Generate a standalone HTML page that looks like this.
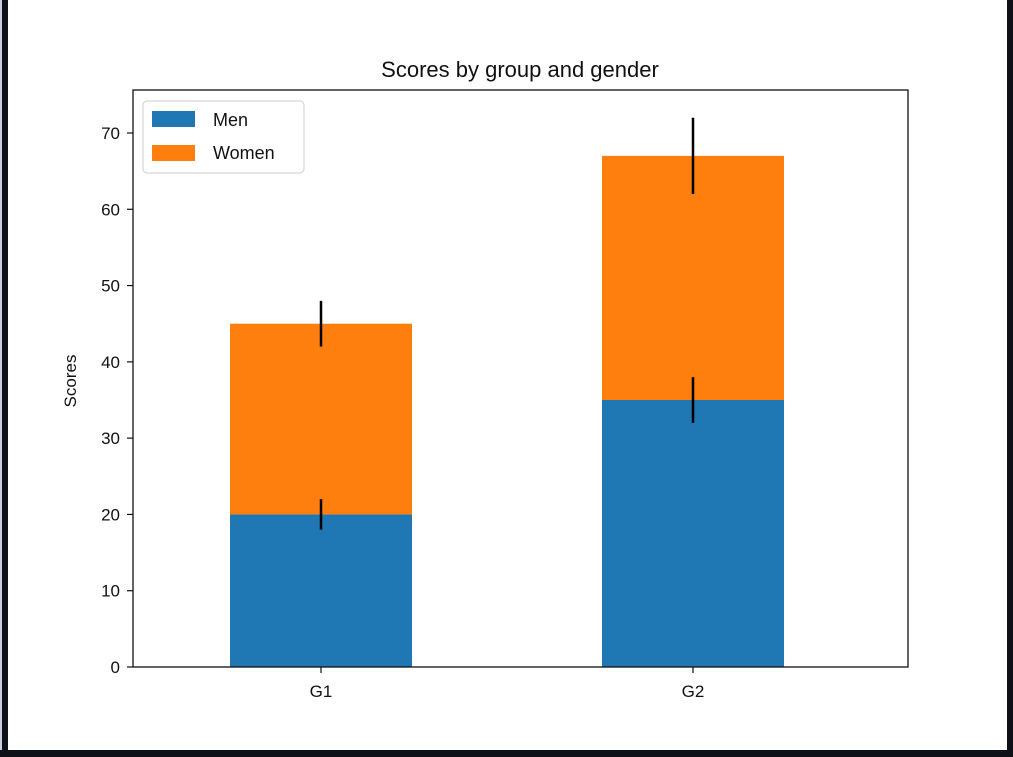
<!DOCTYPE html>
<html><head><meta charset="utf-8"><style>
body{margin:0;background:#fff;}
svg{display:block;font-family:"Liberation Sans","DejaVu Sans",sans-serif;}
</style></head><body>
<svg width="1013" height="757">
<rect x="0" y="0" width="1013" height="757" fill="#fff"/>
<rect x="0" y="0" width="2" height="757" fill="#c8d0e0"/>
<rect x="2" y="0" width="6" height="757" fill="#0e1117"/>
<rect x="1007" y="0" width="6" height="757" fill="#0e1117"/>
<rect x="0" y="750" width="1013" height="7" fill="#0e1117"/>
<text x="520" y="77" font-size="22" text-anchor="middle" fill="#111">Scores by group and gender</text>
<text transform="translate(76,381) rotate(-90)" font-size="17" text-anchor="middle" fill="#111">Scores</text>
<g id="plot"></g>
<rect x="133" y="90" width="775" height="577" fill="none" stroke="#111" stroke-width="1.3"/>
<g>
<rect x="143" y="101" width="161" height="72" rx="4" fill="#fff" stroke="#ccc"/>
<rect x="152" y="111" width="43" height="16" fill="#1f77b4"/>
<text x="213" y="126" font-size="18" fill="#111">Men</text>
<rect x="152" y="145" width="43" height="16" fill="#ff7f0e"/>
<text x="213" y="159" font-size="18" fill="#111">Women</text>
</g>
</svg>
<script>
const categories=["G1","G2"];
const menMeans=[20,35];
const womenMeans=[25,32];
const menStd=[2,3];
const womenStd=[3,5];
const yTicks=[0,10,20,30,40,50,60,70];
const NS="http://www.w3.org/2000/svg";
const g=document.getElementById('plot');
const y=v=>667-v*(534/70);
const x=i=>321+i*372;
const bw=182;
function mk(t,a){const e=document.createElementNS(NS,t);for(const k in a)e.setAttribute(k,a[k]);g.appendChild(e);return e;}
categories.forEach((c,i)=>{
  let r=mk('rect',{x:x(i)-bw/2,y:y(menMeans[i]),width:bw,height:y(0)-y(menMeans[i]),fill:'#1f77b4'});
  
  
  const top=menMeans[i]+womenMeans[i];
  r=mk('rect',{x:x(i)-bw/2,y:y(top),width:bw,height:y(menMeans[i])-y(top),fill:'#ff7f0e'});
  
  
  let l=mk('line',{x1:x(i),x2:x(i),y1:y(menMeans[i]-menStd[i]),y2:y(menMeans[i]+menStd[i]),stroke:'#000','stroke-width':2.5});
  
  
  l=mk('line',{x1:x(i),x2:x(i),y1:y(top-womenStd[i]),y2:y(top+womenStd[i]),stroke:'#000','stroke-width':2.5});
  
  
  l=mk('line',{x1:x(i),x2:x(i),y1:667,y2:673,stroke:'#111','stroke-width':1.2});
  
  
  const t=mk('text',{x:x(i),y:697,'font-size':17,'text-anchor':'middle',fill:'#111'});
  t.textContent=c;
  
  
});
yTicks.forEach(v=>{
  const l=mk('line',{x1:127,x2:133,y1:y(v),y2:y(v),stroke:'#111','stroke-width':1.2});
  
  
  const t=mk('text',{x:120,y:y(v)+6,'font-size':17,'text-anchor':'end',fill:'#111'});
  t.textContent=v;
  
  
});
</script>
</body></html>
